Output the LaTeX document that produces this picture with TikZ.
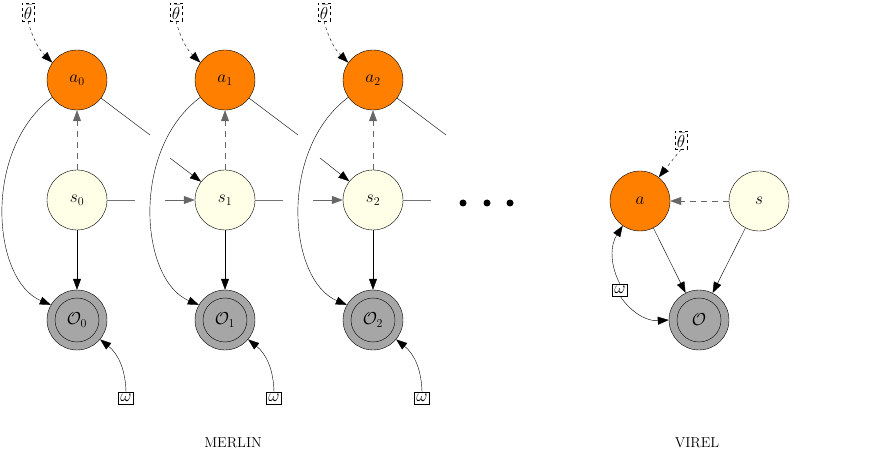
\documentclass[tikz,border=0pt]{standalone}
\usetikzlibrary{arrows.meta}
\begin{document}
\begin{tikzpicture}[x=1pt,y=-1pt,
 every node/.style={font=\LARGE},
 act/.style={circle,draw,fill=orange,minimum size=60pt,inner sep=0},
 st/.style={circle,draw,fill=yellow!10,minimum size=60pt,inner sep=0},
 par/.style={draw,dashed,fill=white,inner sep=2pt},
 prm/.style={draw,fill=white,inner sep=2pt},
 ar/.style={-{Triangle[length=11pt,width=8pt]},thin},
 gr/.style={ar,draw=black!60,dashed,dash pattern=on 6pt off 5pt},
 hz/.style={draw=black!55,thin}]
\useasboundingbox (0,0) rectangle (881,457);
\clip (0,0) rectangle (881,457);
\foreach \i/\x in {0/77,1/225,2/373}{
 \node[act] (a\i) at (\x,80) {$a_{\i}$};
 \node[st] (s\i) at (\x,200) {$s_{\i}$};
 \node[circle,draw,fill=black!35,minimum size=60pt] (O\i) at (\x,320) {};
 \node[circle,draw,minimum size=44pt,inner sep=0] (Oi\i) at (\x,320) {$\mathcal{O}_{\i}$};
 \node[par] (t\i) at (\x-49,12) {$\bar\theta$};
 \node[prm] (w\i) at (\x+49,398) {$\omega$};
 \draw[ar,dashed] (t\i.south) to[bend right=15] (a\i);
 \draw[gr] (s\i) -- (a\i);
 \draw[ar] (s\i) -- (O\i);
 \draw[ar] (a\i.215) .. controls (\x-95,150) and (\x-85,280) .. (O\i.150);
 \draw[ar] (w\i.north) to[bend right=25] (O\i.-40);
 \coordinate (ae\i) at (\x+73,135);
 \coordinate (se\i) at (\x+58,200);
 \draw (a\i) -- (ae\i);
 \draw[hz] (s\i) -- (se\i);
}
\coordinate (ab1) at (170,158); \coordinate (sb1) at (165,200);
\coordinate (ab2) at (320,158); \coordinate (sb2) at (313,200);
\draw[ar] (ab1) -- (s1); \draw[ar,draw=black!60] (sb1) -- (s1);
\draw[ar] (ab2) -- (s2); \draw[ar,draw=black!60] (sb2) -- (s2);
\foreach \x in {463,487,510} \fill (\x,203) circle (3.5pt);
\node[font=\Large] at (233,443) {MERLIN};
\node[font=\Large] at (697,443) {VIREL};
\node[act] (a) at (640,201) {$a$};
\node[st] (s) at (759,201) {$s$};
\node[circle,draw,fill=black!35,minimum size=60pt] (O) at (699,320) {};
\node[circle,draw,minimum size=44pt,inner sep=0] (Oi) at (699,320) {$\mathcal{O}$};
\node[par] (t) at (681,140) {$\bar\theta$};
\node[prm] (w) at (620,290) {$\omega$};
\draw[ar,dashed] (t.south) -- (a);
\draw[gr] (s) -- (a);
\draw[ar] (a) -- (O);
\draw[ar] (s) -- (O);
\draw[ar] (w.north) to[bend left=30] (a.235);
\draw[ar] (w.south) to[bend right=30] (O.west);
\end{tikzpicture}
\end{document}
